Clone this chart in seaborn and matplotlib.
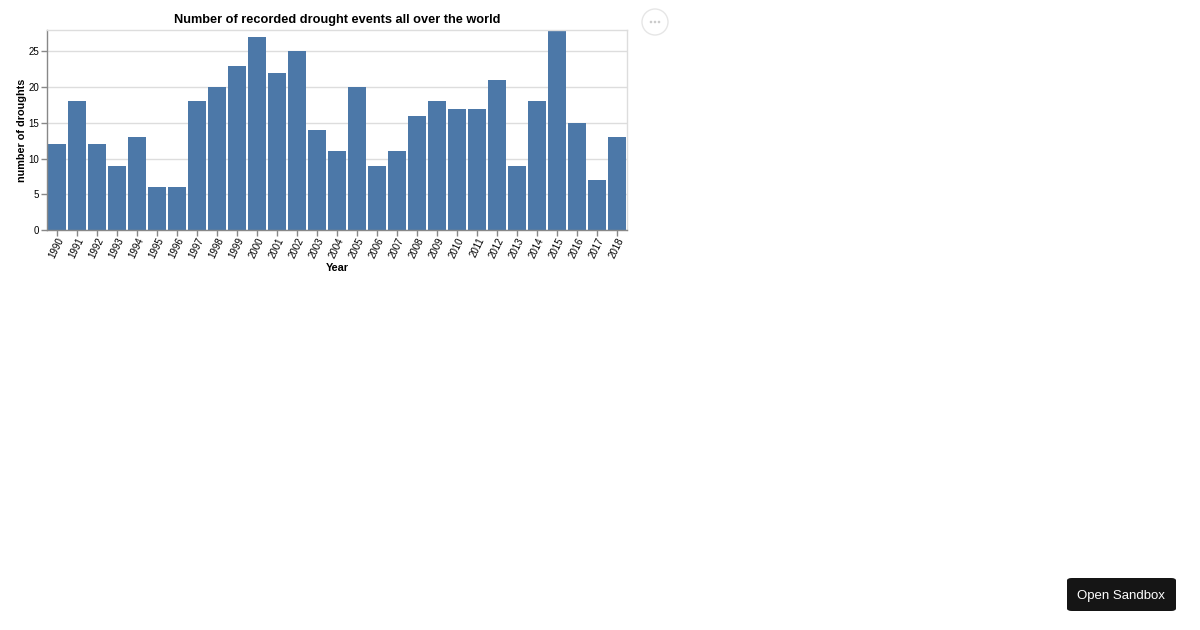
import pandas as pd
import matplotlib.pyplot as plt
import seaborn as sns
from matplotlib.patches import Circle, FancyBboxPatch

# data
years = [str(y) for y in range(1990, 2019)]
droughts = [12, 18, 12, 9, 13, 6, 6, 18, 20, 23, 27, 22, 25, 14, 11,
            20, 9, 11, 16, 18, 17, 17, 21, 9, 18, 28, 15, 7, 13]

df = pd.DataFrame({'Year': years, 'droughts': droughts})

sns.set_style("white")
plt.rcParams['font.family'] = ['Liberation Sans', 'DejaVu Sans']
plt.rcParams['text.color'] = 'black'
plt.rcParams['xtick.color'] = 'black'
plt.rcParams['ytick.color'] = 'black'
plt.rcParams['axes.labelcolor'] = 'black'

fig = plt.figure(figsize=(12, 6.3), dpi=100)
ax = fig.add_axes([47/1200, 400/630, 580/1200, 200/630])

sns.barplot(data=df, x='Year', y='droughts', color='#4c78a8',
            width=0.9, saturation=1, linewidth=0, ax=ax, zorder=2)

ax.set_xlim(-0.5, len(years) - 0.5)
ax.set_ylim(0, 28)
ax.set_yticks([0, 5, 10, 15, 20, 25])
ax.yaxis.grid(True, color='#dddddd', linewidth=1, zorder=0)
ax.set_axisbelow(True)

for s in ['top', 'right']:
    ax.spines[s].set_color('#dddddd')
    ax.spines[s].set_linewidth(1)
for s in ['left', 'bottom']:
    ax.spines[s].set_color('#888888')
    ax.spines[s].set_linewidth(1)

ax.tick_params(axis='both', length=4, width=1, color='#888888',
               labelsize=7, pad=1.5, direction='out', left=True, bottom=True)
ax.tick_params(axis='x', labelsize=7, pad=0.5)
plt.setp(ax.get_xticklabels(), rotation=64, ha='right', rotation_mode='anchor')

ax.set_xlabel('Year', fontsize=7.8, fontweight='bold', labelpad=2)
ax.set_ylabel('number of droughts', fontsize=7.8, fontweight='bold', labelpad=1)
ax.set_title('Number of recorded drought events all over the world',
             fontsize=9.2, fontweight='bold', pad=5)

# "..." actions button (round in pixels)
fig.patches.append(Circle((655, 630 - 22), 13, transform=None,
                          facecolor='white', edgecolor='#e6e6e6', linewidth=1))
for dx in (-4, 0, 4):
    fig.patches.append(Circle((655 + dx, 630 - 22), 1.3, transform=None,
                              facecolor='#cccccc', edgecolor='none'))

# "Open Sandbox" button
fig.patches.append(FancyBboxPatch((1067/1200, 1 - 611/630), 109/1200, 33/630,
                                  boxstyle='round,pad=0,rounding_size=0.004',
                                  transform=fig.transFigure,
                                  facecolor='#151515', edgecolor='none'))
fig.text(1121/1200, 1 - 596/630, 'Open Sandbox', fontsize=9.5, color='white',
         ha='center', va='center')

plt.savefig('out.png', dpi=100)
